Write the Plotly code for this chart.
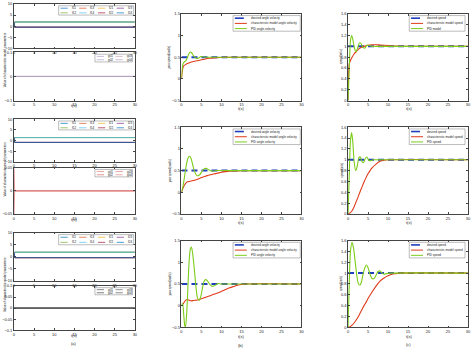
import plotly.graph_objects as go

# ---------------- data ----------------
t_full = [0, 30]
desired_w = [0.5, 0.5]
desired_v = [1.0, 1.0]

# left column: characteristic-model parameters (constant after start)
f_labels = ["f11", "f13", "f21", "f23", "f12", "f14", "f22", "f24"]
g_labels = ["g01", "g03", "g02", "g04"]
t_par = [0, 0.2, 30]
f_row1 = [[-0.45, 1.9, 1.9], [1.9, -0.45, -0.45], [-0.45, 1.9, 1.9], [1.9, -0.45, -0.45],
          [-0.45, 1.9, 1.9], [-0.45, 1.9, 1.9], [1.9, -0.45, -0.45], [1.9, -0.45, -0.45]]
f_row2 = [[-0.9, 1.4, 1.4], [1.4, -0.9, -0.9], [-0.9, 1.4, 1.4], [1.4, -0.9, -0.9],
          [-0.9, 1.4, 1.4], [-0.9, 1.4, 1.4], [1.4, -0.9, -0.9], [1.4, -0.9, -0.9]]
f_row3 = [[-0.35, 1.9, 1.9], [1.9, -0.35, -0.35], [-0.35, 1.9, 1.9], [1.9, -0.35, -0.35],
          [-0.35, 1.9, 1.9], [-0.35, 1.9, 1.9], [1.9, -0.35, -0.35], [1.9, -0.35, -0.35]]
g_row1 = [[0, 0, 0], [0, 0, 0], [0, 0, 0], [0, 0, 0]]
g_row2 = [[0.06, 0, 0], [-0.06, 0, 0], [0, 0, 0], [0, 0, 0]]
g_row3 = [[0, 0, 0], [0, 0, 0], [0, 0, 0], [0, 0, 0]]

# middle column: yaw angle velocity
t_w1_pid = [0, 0.2, 0.4, 0.7, 1.0, 1.4, 1.8, 2.2, 2.5, 2.9, 3.3, 3.8, 4.3, 4.8, 5.3, 6.0, 7, 10, 20, 30]
w1_pid = [0, 0.25, 0.35, 0.39, 0.41, 0.47, 0.57, 0.62, 0.61, 0.55, 0.50, 0.47, 0.48, 0.515, 0.51, 0.50, 0.50, 0.50, 0.50, 0.50]
t_w1_cm = [0, 0.2, 0.5, 1, 2, 3, 4, 5, 6, 7, 8, 9, 10, 12, 15, 30]
w1_cm = [0, 0.18, 0.29, 0.33, 0.37, 0.40, 0.42, 0.44, 0.46, 0.475, 0.485, 0.49, 0.495, 0.499, 0.5, 0.5]

t_w2_pid = [0, 0.4, 0.8, 1.2, 1.6, 2.0, 2.4, 2.8, 3.3, 3.8, 4.2, 4.7, 5.2, 5.7, 6.2, 6.8, 7.4, 8.0, 9, 12, 30]
w2_pid = [0, 0.15, 0.38, 0.62, 0.78, 0.83, 0.78, 0.64, 0.47, 0.39, 0.38, 0.42, 0.49, 0.54, 0.55, 0.52, 0.49, 0.49, 0.50, 0.50, 0.50]
t_w2_cm = [0, 0.5, 1.0, 1.5, 2.0, 3, 4, 5, 6, 7, 8, 9, 10, 11, 12, 13, 15, 17, 30]
w2_cm = [0, 0.12, 0.20, 0.24, 0.25, 0.27, 0.30, 0.34, 0.37, 0.40, 0.42, 0.44, 0.46, 0.475, 0.485, 0.49, 0.497, 0.5, 0.5]

t_w3_pid = [0, 0.3, 0.6, 0.8, 1.0, 1.3, 1.6, 1.9, 2.2, 2.5, 2.8, 3.2, 3.6, 4.0, 4.4, 4.8, 5.2, 5.6, 6.0, 6.5, 7.0, 7.5, 8.0, 8.6, 9.2, 10, 12, 30]
w3_pid = [0, 0.05, -0.25, -0.45, -0.5, -0.2, 0.4, 1.0, 1.3, 1.35, 1.2, 0.85, 0.45, 0.18, 0.12, 0.2, 0.38, 0.55, 0.6, 0.57, 0.5, 0.45, 0.45, 0.48, 0.51, 0.5, 0.5, 0.5]
t_w3_cm = [0, 0.5, 1.0, 1.5, 2.0, 2.5, 3.0, 4.0, 5.0, 6, 7, 8, 9, 10, 11, 12, 13, 14, 15, 16, 30]
w3_cm = [0, 0.05, 0.12, 0.14, 0.12, 0.11, 0.12, 0.13, 0.16, 0.19, 0.22, 0.26, 0.29, 0.33, 0.37, 0.41, 0.44, 0.47, 0.49, 0.5, 0.5]

# right column: speed
t_v1_pid = [0, 0.3, 0.6, 0.9, 1.2, 1.6, 2.0, 2.4, 2.8, 3.2, 3.7, 4.2, 4.7, 5.2, 6.0, 8, 30]
v1_pid = [0, 0.6, 1.1, 1.2, 1.13, 0.97, 0.9, 0.97, 1.06, 1.06, 0.98, 0.97, 1.02, 1.02, 1.0, 1.0, 1.0]
t_v1_cm = [0, 0.3, 0.6, 1, 1.5, 2, 2.5, 3, 4, 5, 6, 7, 8, 10, 12, 14, 30]
v1_cm = [0, 0.68, 0.74, 0.8, 0.86, 0.9, 0.94, 0.97, 1.0, 1.02, 1.03, 1.03, 1.025, 1.015, 1.005, 1.0, 1.0]

t_v2_pid = [0, 0.3, 0.6, 0.9, 1.2, 1.5, 1.9, 2.3, 2.7, 3.1, 3.5, 3.9, 4.3, 4.7, 5.1, 5.6, 6.2, 7, 30]
v2_pid = [0, 0.7, 1.35, 1.5, 1.32, 0.98, 0.8, 0.88, 1.04, 1.05, 0.96, 0.95, 1.02, 1.05, 1.0, 0.98, 1.0, 1.0, 1.0]
t_v2_cm = [0, 0.5, 1.0, 1.5, 2, 2.5, 3, 3.5, 4, 4.5, 5, 5.5, 6, 7, 8, 9, 10, 30]
v2_cm = [0, 0.02, 0.06, 0.13, 0.22, 0.31, 0.41, 0.5, 0.59, 0.67, 0.74, 0.8, 0.85, 0.92, 0.97, 0.99, 1.0, 1.0]

t_v3_pid = [0, 0.3, 0.6, 1.0, 1.4, 1.8, 2.2, 2.6, 3.0, 3.4, 3.8, 4.2, 4.6, 5.0, 5.5, 6.0, 6.5, 7.0, 7.5, 8.0, 8.5, 9.0, 9.5, 10.5, 30]
v3_pid = [0, 0.8, 1.4, 1.57, 1.45, 1.2, 0.95, 0.8, 0.78, 0.85, 1.0, 1.1, 1.15, 1.1, 0.98, 0.9, 0.9, 0.96, 1.03, 1.04, 1.0, 0.98, 0.99, 1.0, 1.0]
t_v3_cm = [0, 0.5, 1, 1.5, 2, 2.5, 3, 3.5, 4, 4.5, 5, 6, 7, 8, 9, 10, 11, 12, 13, 30]
v3_cm = [0, 0.01, 0.04, 0.08, 0.13, 0.19, 0.26, 0.33, 0.4, 0.46, 0.53, 0.65, 0.76, 0.85, 0.91, 0.95, 0.98, 0.99, 1.0, 1.0]

# ---------------- styling / layout ----------------
MAT = ["#0072BD", "#D95319", "#EDB120", "#7E2F8E", "#77AC30", "#4DBEEE", "#A2142F", "#0072BD"]
BLUE, RED, GREEN = "#1f3fbf", "#e03a1a", "#7ccc1a"
FONT = "Liberation Sans"
W, H = 474, 351

def yd(top, bot):
    return [1 - bot / H, 1 - top / H]

XL = [13 / W, 135 / W]
XM = [182 / W, 303 / W]
XR = [350 / W, 471 / W]
rows = [
    dict(lt=yd(1, 46), lb=yd(50, 99), mr=yd(11, 99)),
    dict(lt=yd(118, 161), lb=yd(167, 214), mr=yd(126, 214)),
    dict(lt=yd(233, 282), lb=yd(287, 332), mr=yd(241, 329)),
]
f_rows = [f_row1, f_row2, f_row3]
g_rows = [g_row1, g_row2, g_row3]
g_ranges = [[-0.1, 0.1], [-0.05, 0.05], [-0.1, 0.1]]
g_ticks = [[-0.1, 0, 0.1], [-0.05, 0, 0.05], [-0.1, -0.05, 0, 0.05, 0.1]]
g_colors = [["#b7a3c6", "#c9a8b8", "#a5a5c8", "#b49fbf"],
            ["#e07f7f", "#e07f7f", "#d96b6b", "#e38a8a"],
            ["#555555", "#666666", "#444444", "#555555"]]
w_data = [(t_w1_cm, w1_cm, t_w1_pid, w1_pid), (t_w2_cm, w2_cm, t_w2_pid, w2_pid), (t_w3_cm, w3_cm, t_w3_pid, w3_pid)]
v_data = [(t_v1_cm, v1_cm, t_v1_pid, v1_pid), (t_v2_cm, v2_cm, t_v2_pid, v2_pid), (t_v3_cm, v3_cm, t_v3_pid, v3_pid)]
pid_v_names = ["PID model", "PID speed", "PID speed"]

fig = go.Figure()
layout = {}
shapes = []
annots = []
axn = [0]

def axis_common(domain, anchor, **kw):
    d = dict(domain=domain, anchor=anchor, showline=True, linecolor="#444", linewidth=0.6,
             mirror="ticks", ticks="inside", ticklen=2, tickwidth=0.5, tickcolor="#444",
             showgrid=False, zeroline=False, tickfont=dict(size=4, family=FONT, color="#222"))
    d.update(kw)
    return d

def new_axes(xdom, ydom, xkw, ykw):
    axn[0] += 1
    n = axn[0]
    s = "" if n == 1 else str(n)
    layout["xaxis" + s] = axis_common(xdom, "y" + s, **xkw)
    layout["yaxis" + s] = axis_common(ydom, "x" + s, **ykw)
    return n, "x" + s, "y" + s

def legend(n, box, entries, cols, sample_w, col_w, row_ys):
    s = "" if n == 1 else str(n)
    xr, yr = "x" + s + " domain", "y" + s + " domain"
    shapes.append(dict(type="rect", xref=xr, yref=yr, x0=box[0], x1=box[1], y0=box[2], y1=box[3],
                       line=dict(color="#555", width=0.4), fillcolor="white", layer="above"))
    for i, (lab, col, dash, wd) in enumerate(entries):
        r, c = divmod(i, cols)
        x0 = box[0] + 0.015 + c * col_w
        y = row_ys[r]
        shapes.append(dict(type="line", xref=xr, yref=yr, x0=x0, x1=x0 + sample_w, y0=y, y1=y,
                           line=dict(color=col, width=wd, dash=dash), layer="above"))
        annots.append(dict(xref=xr, yref=yr, x=x0 + sample_w + 0.015, y=y, text=lab, showarrow=False,
                           xanchor="left", yanchor="middle", font=dict(size=3, family=FONT, color="#222")))

xt = dict(range=[0, 30], tickvals=[0, 5, 10, 15, 20, 25, 30])
for r, rw in enumerate(rows):
    # left top
    n, xa, ya = new_axes(XL, rw["lt"], xt, dict(range=[-10, 10], tickvals=[-10, -5, 0, 5, 10]))
    for i, vals in enumerate(f_rows[r]):
        fig.add_trace(go.Scatter(x=t_par, y=vals, mode="lines", line=dict(color=MAT[i], width=0.7),
                                 xaxis=xa, yaxis=ya, showlegend=False))
    legend(n, [0.37, 0.99, 0.75, 0.96], [(lab, MAT[i], "solid", 0.7) for i, lab in enumerate(f_labels)],
           4, 0.06, 0.155, [0.905, 0.80])
    # left bottom
    n, xa, ya = new_axes(XL, rw["lb"], xt, dict(range=g_ranges[r], tickvals=g_ticks[r]))
    for i, vals in enumerate(g_rows[r]):
        fig.add_trace(go.Scatter(x=t_par, y=vals, mode="lines", line=dict(color=g_colors[r][i], width=0.8),
                                 xaxis=xa, yaxis=ya, showlegend=False))
    legend(n, [0.67, 0.98, 0.80, 0.96], [(lab, g_colors[r][i], "solid", 0.7) for i, lab in enumerate(g_labels)],
           2, 0.06, 0.155, [0.915, 0.845])
    # middle
    tc, yc, tp, yp = w_data[r]
    n, xa, ya = new_axes(XM, rw["mr"], xt, dict(range=[-0.5, 1.5], tickvals=[-0.5, 0, 0.5, 1, 1.5]))
    fig.add_trace(go.Scatter(x=t_full, y=desired_w, mode="lines", line=dict(color=BLUE, width=2, dash="6px,4px"),
                             xaxis=xa, yaxis=ya, showlegend=False))
    fig.add_trace(go.Scatter(x=tc, y=yc, mode="lines", line=dict(color=RED, width=1.1, shape="spline", smoothing=0.6),
                             xaxis=xa, yaxis=ya, showlegend=False))
    fig.add_trace(go.Scatter(x=tp, y=yp, mode="lines", line=dict(color=GREEN, width=1.1, shape="spline", smoothing=0.6),
                             xaxis=xa, yaxis=ya, showlegend=False))
    legend(n, [0.43, 0.99, 0.80, 0.98],
           [("desired angle velocity", BLUE, "dash", 1.6), ("characteristic model angle velocity", RED, "solid", 1),
            ("PID angle velocity", GREEN, "solid", 1)], 1, 0.1, 0.2, [0.95, 0.89, 0.83])
    # right
    tc, yc, tp, yp = v_data[r]
    n, xa, ya = new_axes(XR, rw["mr"], xt, dict(range=[0, 1.6], tickvals=[0, 0.2, 0.4, 0.6, 0.8, 1, 1.2, 1.4, 1.6]))
    fig.add_trace(go.Scatter(x=t_full, y=desired_v, mode="lines", line=dict(color=BLUE, width=2, dash="6px,4px"),
                             xaxis=xa, yaxis=ya, showlegend=False))
    fig.add_trace(go.Scatter(x=tc, y=yc, mode="lines", line=dict(color=RED, width=1.1, shape="spline", smoothing=0.6),
                             xaxis=xa, yaxis=ya, showlegend=False))
    fig.add_trace(go.Scatter(x=tp, y=yp, mode="lines", line=dict(color=GREEN, width=1.1, shape="spline", smoothing=0.6),
                             xaxis=xa, yaxis=ya, showlegend=False))
    legend(n, [0.51, 0.975, 0.80, 0.98],
           [("desired speed", BLUE, "dash", 1.6), ("characteristic model speed", RED, "solid", 1),
            (pid_v_names[r], GREEN, "solid", 1)], 1, 0.1, 0.2, [0.95, 0.89, 0.83])

def ptxt(x, y, text, size=4, angle=0):
    annots.append(dict(xref="paper", yref="paper", x=x / W, y=1 - y / H, text=text, showarrow=False,
                       textangle=angle, xanchor="center", yanchor="middle",
                       font=dict(size=size, family=FONT, color="#222")))

ylab_left_y = [57, 168, 285]
xlab_y_left = [104, 220, 337]
xlab_y_mid = [107, 223, 338]
mid_y = [55, 170, 285]
for r in range(3):
    ptxt(4, ylab_left_y[r], "Value of characteristic model parameters", 3, -90)
    ptxt(74, xlab_y_left[r], "t(s)")
    ptxt(242, xlab_y_mid[r], "t(s)")
    ptxt(411, xlab_y_mid[r], "t(s)")
    ptxt(170, mid_y[r], "yaw speed(rad/s)", 3, -90)
    ptxt(343, mid_y[r], "speed(m/s)", 3, -90)
ptxt(74, 345, "(a)")
ptxt(242, 347, "(b)")
ptxt(411, 346, "(c)")

layout.update(dict(width=W, height=H, margin=dict(l=0, r=0, t=0, b=0), paper_bgcolor="white",
                   plot_bgcolor="white", showlegend=False, shapes=shapes, annotations=annots,
                   font=dict(family=FONT, size=4)))
fig.update_layout(**layout)
fig.write_html("out.html")
